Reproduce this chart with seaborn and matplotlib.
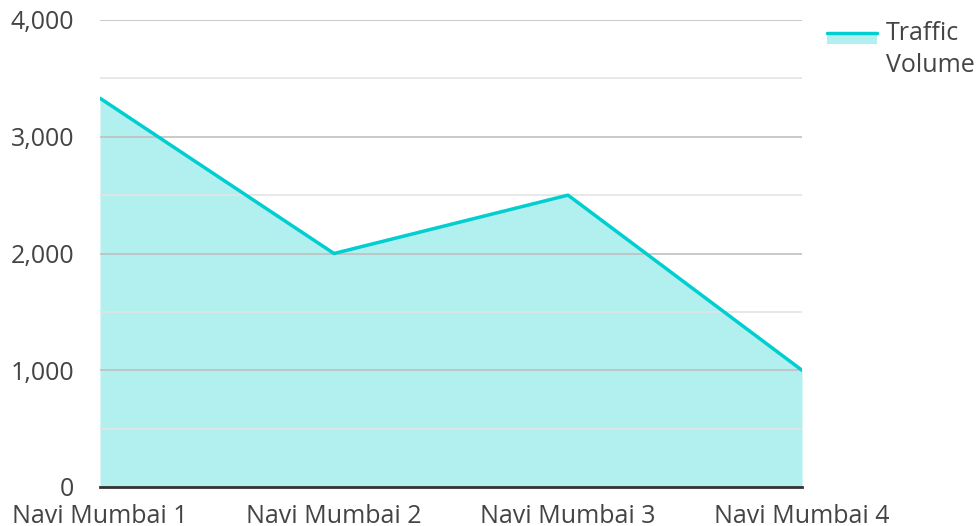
import matplotlib
matplotlib.use("Agg")
import matplotlib.pyplot as plt
import seaborn as sns
import pandas as pd
import numpy as np
from matplotlib.patches import Rectangle
from matplotlib.lines import Line2D
from matplotlib.ticker import FuncFormatter, MultipleLocator

categories = ["Navi Mumbai 1", "Navi Mumbai 2", "Navi Mumbai 3", "Navi Mumbai 4"]
traffic_volume = [3330, 2000, 2500, 1000]
series_name = "Traffic Volume"

sns.set_theme(style="white")
plt.rcParams['font.family'] = ['Open Sans', 'DejaVu Sans']

line_color = "#00CED1"
fill_color = "#B2EFEF"
text_color = "#444444"
fs = 18

df = pd.DataFrame({"x": np.arange(len(categories)), "y": traffic_volume})

fig = plt.figure(figsize=(9.76, 5.26), dpi=100)
ax = fig.add_axes([100/976, 1-487/526, (802-100)/976, (487-20)/526])

ax.fill_between(df["x"], 0, df["y"], color=fill_color, linewidth=0, zorder=1)
sns.lineplot(data=df, x="x", y="y", ax=ax, color=line_color, linewidth=2.5, zorder=3)

ax.set_xlim(0, len(categories) - 1)
ax.set_ylim(0, 4000)
ax.yaxis.set_major_locator(MultipleLocator(1000))
ax.yaxis.set_minor_locator(MultipleLocator(500))
ax.yaxis.set_major_formatter(FuncFormatter(lambda v, p: f"{int(v):,}"))
ax.set_xticks(df["x"])
ax.set_xticklabels(categories)
ax.set_xlabel("")
ax.set_ylabel("")

ax.grid(which="major", axis="y", color="#C0C0C0", linewidth=1.2, zorder=2)
ax.grid(which="minor", axis="y", color="#E4E4E4", linewidth=1.2, zorder=2)
ax.grid(which="major", axis="x", visible=False)
ax.set_axisbelow(False)
for s in ["top", "right", "left"]:
    ax.spines[s].set_visible(False)
ax.spines["bottom"].set_color("#333333")
ax.spines["bottom"].set_linewidth(2)
ax.spines["bottom"].set_zorder(4)

ax.tick_params(axis="both", which="both", length=0, labelsize=fs, labelcolor=text_color)
ax.tick_params(axis="y", pad=18.5)
ax.tick_params(axis="x", pad=12)

# legend drawn in figure pixel coords
W, H = 976, 526
fig.patches.append(Rectangle((827/W, 1-44/H), 50/W, 12/H, transform=fig.transFigure,
                             facecolor=fill_color, edgecolor="none"))
fig.lines.append(Line2D([827/W, 877/W], [1-33/H, 1-33/H], transform=fig.transFigure,
                        color=line_color, linewidth=2.5))
fig.text(886/W, 1-33/H, "Traffic", fontsize=fs, color=text_color, va="center", ha="left")
fig.text(886/W, 1-65/H, "Volume", fontsize=fs, color=text_color, va="center", ha="left")

fig.savefig("out.png", dpi=100)
